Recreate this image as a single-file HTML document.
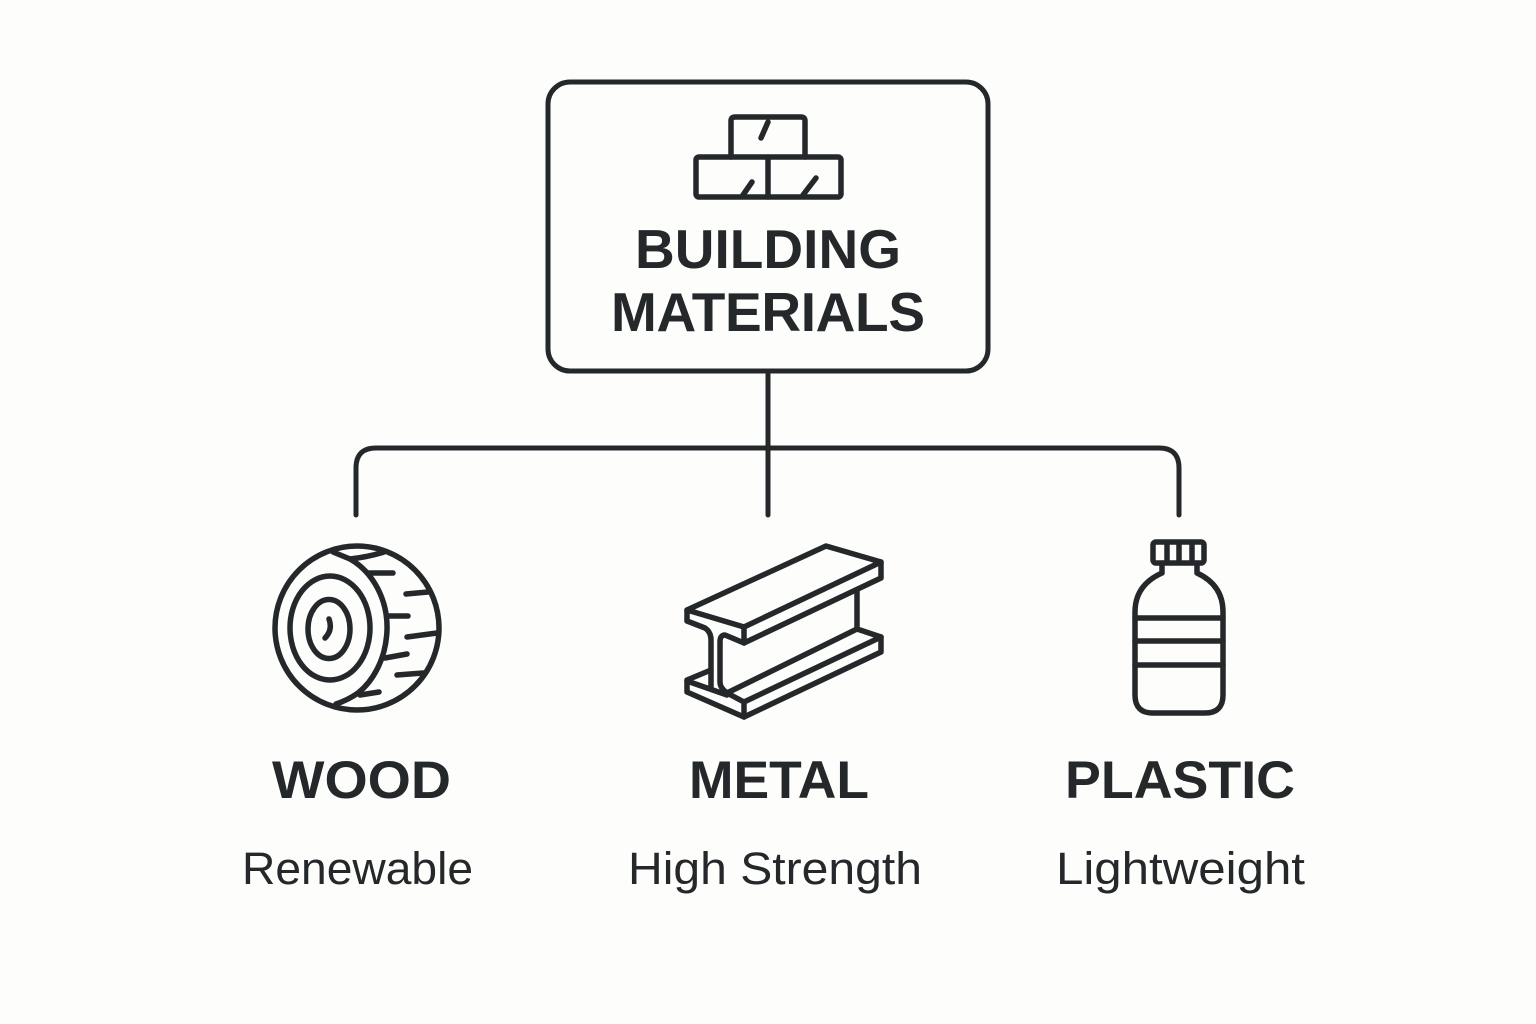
<!DOCTYPE html>
<html><head><meta charset="utf-8"><style>
html,body{margin:0;padding:0;background:#fdfdfb}
svg{display:block}
text{font-family:"Liberation Sans",sans-serif;fill:#25282b}
.b{font-weight:700}
</style></head><body>
<svg width="1536" height="1024" viewBox="0 0 1536 1024" xmlns="http://www.w3.org/2000/svg">
<rect width="1536" height="1024" fill="#fdfdfb"/>
<g fill="none" stroke="#25282b" stroke-width="5" stroke-linecap="round" stroke-linejoin="round">
<!-- main box -->
<rect x="548" y="82" width="440" height="289" rx="22"/>
<!-- connectors -->
<path d="M768 371V515M356 515V468Q356 448 376 448H1159Q1179 448 1179 468V515"/>
<g stroke-width="5.5">
<!-- bricks -->
<path d="M731 157V121Q731 117 735 117H801Q805 117 805 121V157"/>
<rect x="696" y="157" width="145" height="40" rx="3"/>
<path d="M768 157V197M768 122L761 138M752 182L743 195M816 178L803 195"/>
<!-- wood -->
<circle cx="357" cy="628" r="82"/>
<path d="M350 559C373 572 388 600 387 630C386 660 372 682 358 693Q348 700 336 704"/>
<ellipse cx="330" cy="628" rx="40" ry="52"/>
<ellipse cx="329" cy="629" rx="21" ry="29.5"/>
<path d="M329 619Q333 630 325 638"/>
<path d="M333 552L350 559Q368 557 384 552"/>
<path d="M368 573H393M406 594L428 592M388 616H408M407 637L437 633M385 658L407 654M397 675L423 673M360 695L379 692"/>
<!-- I beam -->
<path d="M826 546L881 562V578L744 643L725 635Q720 635 720 642V682Q720 688 727 693L744 702L881 637V652L744 717L687 692V680L711 670V640Q711 632 705 628L687 621V610Z"/>
<path d="M687 610L744 627L881 562M744 627V643M744 702V717M727 693L857 629L881 637M857 590V629M711 670V689M687 681L727 695"/>
<!-- bottle -->
<rect x="1153" y="542" width="51" height="21" rx="3"/>
<path d="M1167 543V562M1179 543V562M1192 543V562"/>
<path d="M1162 563V573Q1135 585 1135 612V695Q1135 713 1153 713H1205Q1223 713 1223 695V612Q1223 585 1197 573V563"/>
<path d="M1135 618H1223M1135 641H1223M1135 665H1223"/>
</g>
</g>
<text class="b" x="635" y="268" font-size="55" textLength="266" lengthAdjust="spacing">BUILDING</text>
<text class="b" x="611" y="331" font-size="55" textLength="314" lengthAdjust="spacing">MATERIALS</text>
<text class="b" x="272" y="798" font-size="53" textLength="179" lengthAdjust="spacingAndGlyphs">WOOD</text>
<text class="b" x="689" y="798" font-size="53" textLength="180" lengthAdjust="spacingAndGlyphs">METAL</text>
<text class="b" x="1065" y="798" font-size="53" textLength="230" lengthAdjust="spacingAndGlyphs">PLASTIC</text>
<text x="242" y="884" font-size="45" textLength="231" lengthAdjust="spacingAndGlyphs">Renewable</text>
<text x="628" y="884" font-size="45" textLength="294" lengthAdjust="spacingAndGlyphs">High Strength</text>
<text x="1056" y="884" font-size="45" textLength="249" lengthAdjust="spacingAndGlyphs">Lightweight</text>
</svg>
</body></html>
